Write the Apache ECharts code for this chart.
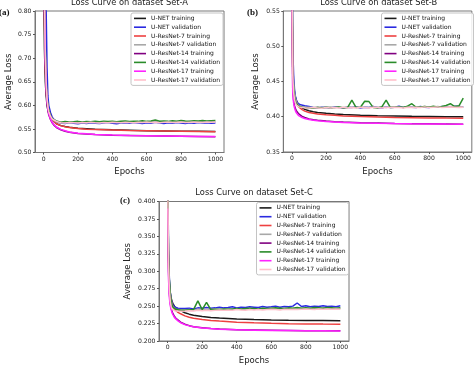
<!DOCTYPE html>
<html>
<head>
<meta charset="utf-8">
<script src="https://cdn.jsdelivr.net/npm/echarts@6.0.0/dist/echarts.min.js"></script>
<style>
html,body{margin:0;padding:0;background:#fff;}
#chart{width:474px;height:366px;}
</style>
</head>
<body>
<div id="chart"></div>
<script>
// ---------- data ----------
const seriesNames = ['U-NET training','U-NET validation','U-ResNet-7 training','U-ResNet-7 validation','U-ResNet-14 training','U-ResNet-14 validation','U-ResNet-17 training','U-ResNet-17 validation'];
const panelTitles = ['Loss Curve on dataset Set-A','Loss Curve on dataset Set-B','Loss Curve on dataset Set-C'];
const panelTags = ['(a)','(b)','(c)'];
const xTicks = [0,200,400,600,800,1000];
const yTicksA = [0.50,0.55,0.60,0.65,0.70,0.75,0.80];
const yTicksB = [0.35,0.40,0.45,0.50,0.55];
const yTicksC = [0.200,0.225,0.250,0.275,0.300,0.325,0.350,0.375,0.400];

const epochsTrain = [1,5,10,15,20,25,30,40,50,60,75,100,125,150,200,250,300,400,500,600,700,800,900,1000];
const epochsVal = [1,5,10,15,20,25,30,40,50,60,75,100,125,150,175,200,225,250,275,300,325,350,375,400,425,450,475,500,525,550,575,600,625,650,675,700,725,750,775,800,825,850,875,900,925,950,975,1000];

// Set-A
const aUnetTrain = [0.84,0.72,0.65,0.62,0.60,0.59,0.583,0.575,0.569,0.565,0.561,0.557,0.555,0.5535,0.5515,0.5505,0.5495,0.548,0.547,0.546,0.5455,0.545,0.5448,0.5445];
const aUnetVal = [1.1,0.98,0.88,0.80,0.68,0.62,0.60,0.585,0.575,0.57,0.565,
 0.5625,0.5615,0.5630,0.5620,0.5610,0.5625,0.5615,0.5630,0.5620,0.5615,
 0.5625,0.5635,0.5620,0.5610,0.5625,0.5630,0.5620,0.5635,0.5625,0.5615,
 0.5630,0.5620,0.5640,0.5625,0.5615,0.5630,0.5620,0.5635,0.5625,0.5615,
 0.5630,0.5620,0.5635,0.5625,0.5630,0.5620,0.5625];
const aR7Train = [0.92,0.78,0.68,0.63,0.61,0.597,0.588,0.578,0.571,0.566,0.561,0.557,0.5545,0.553,0.551,0.5495,0.5485,0.5475,0.5465,0.546,0.5455,0.545,0.5445,0.544];
const aR7Val = [0.95,0.80,0.70,0.64,0.61,0.595,0.585,0.575,0.57,0.567,0.565,
 0.5635,0.5640,0.5630,0.5645,0.5635,0.5640,0.5630,0.5645,0.5640,0.5635,
 0.5645,0.5640,0.5650,0.5635,0.5645,0.5640,0.5650,0.5640,0.5645,0.5655,
 0.5640,0.5650,0.5645,0.5655,0.5645,0.5650,0.5640,0.5655,0.5650,0.5645,
 0.5655,0.5650,0.5645,0.5655,0.5650,0.5655,0.5650];
const aR14Train = [0.95,0.80,0.69,0.635,0.605,0.59,0.58,0.57,0.563,0.558,0.553,0.548,0.545,0.543,0.5405,0.539,0.538,0.5365,0.536,0.5353,0.535,0.5345,0.534,0.5335];
const aR14Val = [0.98,0.85,0.72,0.65,0.615,0.60,0.59,0.578,0.572,0.569,0.567,
 0.5640,0.5655,0.5645,0.5650,0.5660,0.5645,0.5655,0.5650,0.5660,0.5650,
 0.5665,0.5655,0.5660,0.5650,0.5665,0.5670,0.5655,0.5665,0.5660,0.5675,
 0.5660,0.5670,0.5690,0.5665,0.5670,0.5660,0.5675,0.5665,0.5680,0.5670,
 0.5665,0.5675,0.5670,0.5680,0.5670,0.5675,0.5680];
const aR17Train = [0.96,0.82,0.70,0.64,0.61,0.593,0.582,0.571,0.564,0.559,0.554,0.549,0.546,0.5435,0.541,0.5395,0.5383,0.537,0.536,0.5355,0.535,0.5345,0.534,0.5338];
const aR17Val = [0.99,0.83,0.71,0.65,0.615,0.598,0.587,0.577,0.571,0.568,0.566,
 0.5630,0.5625,0.5635,0.5630,0.5625,0.5635,0.5630,0.5640,0.5630,0.5625,
 0.5635,0.5630,0.5640,0.5635,0.5630,0.5640,0.5635,0.5630,0.5640,0.5635,
 0.5645,0.5635,0.5640,0.5630,0.5640,0.5645,0.5635,0.5640,0.5645,0.5635,
 0.5640,0.5645,0.5640,0.5635,0.5645,0.5640,0.5645];

// Set-B
const bUnetTrain = [0.62,0.47,0.445,0.435,0.428,0.424,0.421,0.417,0.414,0.4125,0.4105,0.4085,0.407,0.406,0.4048,0.404,0.4033,0.4022,0.4015,0.401,0.4006,0.4003,0.4001,0.400];
const bUnetVal = [0.65,0.50,0.46,0.44,0.43,0.425,0.42,0.418,0.417,0.4165,0.4155,
 0.4145,0.4130,0.4125,0.4135,0.4130,0.4125,0.4140,0.4130,0.4125,0.4135,
 0.4130,0.4140,0.4125,0.4135,0.4130,0.4145,0.4130,0.4125,0.4140,0.4130,
 0.4135,0.4150,0.4130,0.4140,0.4135,0.4130,0.4145,0.4135,0.4130,0.4140,
 0.4135,0.4145,0.4140,0.4135,0.4150,0.4145,0.4140];
const bR7Train = [0.60,0.46,0.44,0.431,0.425,0.421,0.418,0.414,0.4115,0.410,0.408,0.406,0.405,0.404,0.4027,0.402,0.4012,0.4002,0.3995,0.399,0.3987,0.3984,0.3981,0.398];
const bR7Val = [0.62,0.48,0.45,0.435,0.427,0.422,0.419,0.416,0.4145,0.414,0.4135,
 0.4135,0.4130,0.4140,0.4130,0.4135,0.4140,0.4130,0.4135,0.4130,0.4140,
 0.4135,0.4130,0.4140,0.4135,0.4130,0.4140,0.4135,0.4140,0.4130,0.4140,
 0.4135,0.4140,0.4135,0.4145,0.4135,0.4140,0.4135,0.4145,0.4140,0.4135,
 0.4145,0.4140,0.4135,0.4145,0.4140,0.4145,0.4140];
const bR14Train = [0.58,0.44,0.424,0.416,0.412,0.409,0.407,0.404,0.402,0.4005,0.399,0.397,0.3958,0.395,0.3938,0.393,0.3924,0.3915,0.391,0.3905,0.3902,0.3899,0.3896,0.3893];
const bR14Val = [0.60,0.47,0.44,0.428,0.422,0.419,0.417,0.415,0.414,0.4135,0.413,
 0.4125,0.4120,0.4130,0.4125,0.4135,0.4125,0.4130,0.4140,0.4125,0.4130,
 0.4235,0.4130,0.4135,0.4220,0.4215,0.4130,0.4125,0.4140,0.4235,0.4130,
 0.4135,0.4140,0.4130,0.4150,0.4185,0.4135,0.4140,0.4145,0.4135,0.4150,
 0.4140,0.4145,0.4160,0.4185,0.4145,0.4155,0.4265];
const bR17Train = [0.57,0.435,0.42,0.413,0.409,0.406,0.404,0.4015,0.400,0.3988,0.3975,0.396,0.395,0.3943,0.3933,0.3926,0.392,0.3912,0.3907,0.3903,0.390,0.3898,0.3896,0.3895];
const bR17Val = [0.59,0.46,0.435,0.425,0.42,0.417,0.415,0.414,0.4135,0.413,0.4128,
 0.4125,0.4130,0.4125,0.4120,0.4130,0.4125,0.4130,0.4125,0.4135,0.4125,
 0.4130,0.4125,0.4135,0.4130,0.4125,0.4135,0.4130,0.4125,0.4135,0.4130,
 0.4135,0.4130,0.4125,0.4135,0.4130,0.4135,0.4130,0.4140,0.4130,0.4135,
 0.4140,0.4130,0.4135,0.4140,0.4135,0.4130,0.4135];

// Set-C
const cUnetTrain = [0.42,0.32,0.285,0.27,0.262,0.257,0.254,0.2495,0.247,0.2455,0.2435,0.2405,0.2385,0.237,0.235,0.2338,0.2328,0.2315,0.2307,0.2302,0.2298,0.2295,0.2293,0.2292];
const cUnetVal = [0.45,0.33,0.29,0.27,0.26,0.255,0.252,0.249,0.248,0.247,0.2465,
 0.2465,0.2470,0.2460,0.2475,0.2470,0.2480,0.2470,0.2475,0.2485,0.2475,
 0.2480,0.2490,0.2475,0.2485,0.2480,0.2490,0.2485,0.2480,0.2495,0.2485,
 0.2490,0.2500,0.2485,0.2495,0.2490,0.2500,0.2545,0.2495,0.2505,0.2490,
 0.2500,0.2495,0.2505,0.2495,0.2500,0.2490,0.2505];
const cR7Train = [0.41,0.31,0.28,0.266,0.258,0.253,0.25,0.2455,0.243,0.241,0.239,0.236,0.234,0.2325,0.2308,0.2295,0.2285,0.227,0.226,0.2253,0.2248,0.2245,0.2242,0.224];
const cR7Val = [0.43,0.32,0.285,0.267,0.258,0.252,0.249,0.2465,0.2455,0.245,0.2448,
 0.2445,0.2450,0.2445,0.2455,0.2450,0.2455,0.2450,0.2460,0.2455,0.2450,
 0.2460,0.2455,0.2465,0.2455,0.2460,0.2465,0.2460,0.2455,0.2465,0.2460,
 0.2465,0.2470,0.2460,0.2465,0.2470,0.2465,0.2470,0.2465,0.2475,0.2465,
 0.2470,0.2465,0.2475,0.2470,0.2465,0.2470,0.2465];
const cR14Train = [0.40,0.30,0.268,0.255,0.248,0.243,0.2395,0.235,0.232,0.2298,0.227,0.224,0.222,0.2205,0.219,0.218,0.2172,0.2162,0.2157,0.2153,0.215,0.2148,0.2147,0.2146];
const cR14Val = [0.44,0.325,0.287,0.268,0.258,0.252,0.2485,0.246,0.245,0.2445,0.2442,
 0.2440,0.2445,0.2450,0.2575,0.2450,0.2555,0.2450,0.2455,0.2450,0.2460,
 0.2455,0.2460,0.2465,0.2460,0.2465,0.2470,0.2465,0.2460,0.2470,0.2465,
 0.2470,0.2475,0.2470,0.2465,0.2475,0.2470,0.2480,0.2470,0.2475,0.2470,
 0.2480,0.2475,0.2470,0.2480,0.2475,0.2470,0.2475];
const cR17Train = [0.39,0.29,0.262,0.251,0.245,0.241,0.238,0.2335,0.2308,0.2288,0.2262,0.2235,0.2217,0.2203,0.2188,0.2178,0.217,0.216,0.2155,0.2151,0.2149,0.2147,0.2146,0.2145];
const cR17Val = [0.42,0.31,0.275,0.258,0.25,0.246,0.2445,0.2435,0.243,0.2428,0.2428,
 0.2430,0.2435,0.2430,0.2440,0.2435,0.2440,0.2435,0.2440,0.2445,0.2440,
 0.2445,0.2440,0.2450,0.2445,0.2440,0.2450,0.2445,0.2450,0.2445,0.2450,
 0.2455,0.2450,0.2445,0.2455,0.2450,0.2455,0.2450,0.2455,0.2460,0.2455,
 0.2450,0.2460,0.2455,0.2460,0.2455,0.2460,0.2455];

// ---------- styling / layout ----------
const colors = ['#1a1a1a','#2a2ae0','#ee4040','#a8a8a8','#800080','#2a8c2a','#ff22ff','#ffc0cb'];
const FONT = '"DejaVu Sans", sans-serif';
const panels = [
  {grid:{left:35, top:11, width:189, height:141.5}, y:[0.50,0.80], yTicks:yTicksA, dec:2, nameGap:22,
   title:[129.5,3], tag:[-1,13], legend:[131,13],
   data:[aUnetTrain,aUnetVal,aR7Train,aR7Val,aR14Train,aR14Val,aR17Train,aR17Val]},
  {grid:{left:283.3, top:11, width:190.7, height:141}, y:[0.35,0.55], yTicks:yTicksB, dec:2, nameGap:23,
   title:[378.7,3], tag:[247,12.5], legend:[381.5,13],
   data:[bUnetTrain,bUnetVal,bR7Train,bR7Val,bR14Train,bR14Val,bR17Train,bR17Val]},
  {grid:{left:159, top:201.5, width:190, height:139.5}, y:[0.20,0.40], yTicks:yTicksC, dec:3, nameGap:27,
   title:[254,193], tag:[120,200.5], legend:[256.5,202.5],
   data:[cUnetTrain,cUnetVal,cR7Train,cR7Val,cR14Train,cR14Val,cR17Train,cR17Val]}
];

const grids = [], xAxes = [], yAxes = [], series = [], legends = [], graphics = [];
panels.forEach((p, gi) => {
  grids.push(Object.assign({show:true, borderColor:'#777', borderWidth:1, backgroundColor:'transparent'}, p.grid));
  xAxes.push({
    type:'value', gridIndex:gi, min:-50, max:1050,
    name:'Epochs', nameLocation:'middle', nameGap:15,
    nameTextStyle:{fontFamily:FONT, fontSize:8.5, color:'#222'},
    axisLine:{show:true, onZero:false, lineStyle:{color:'#777', width:1}},
    axisTick:{show:true, length:2, customValues:xTicks, lineStyle:{color:'#555'}},
    axisLabel:{customValues:xTicks, margin:3.5, fontFamily:FONT, fontSize:6.1, color:'#222',
      formatter:(v)=>String(Math.round(v))},
    splitLine:{show:false}
  });
  yAxes.push({
    type:'value', gridIndex:gi, min:p.y[0], max:p.y[1],
    name:'Average Loss', nameLocation:'middle', nameGap:p.nameGap,
    nameTextStyle:{fontFamily:FONT, fontSize:8.5, color:'#222'},
    axisLine:{show:true, onZero:false, lineStyle:{color:'#777', width:1}},
    axisTick:{show:true, length:2, customValues:p.yTicks, lineStyle:{color:'#555'}},
    axisLabel:{customValues:p.yTicks, margin:3.5, fontFamily:FONT, fontSize:6.1, color:'#222',
      formatter:(v)=>Number(v).toFixed(p.dec)},
    splitLine:{show:false}
  });
  p.data.forEach((vals, si) => {
    const ep = (si % 2 === 0) ? epochsTrain : epochsVal;
    series.push({
      type:'line', name:seriesNames[si], xAxisIndex:gi, yAxisIndex:gi,
      data: ep.map((e,i)=>[e, vals[i]]),
      symbol:'none', showSymbol:false, clip:true, animation:false,
      lineStyle:{color:colors[si], width:1.5},
      itemStyle:{color:colors[si]},
      emphasis:{disabled:true}
    });
  });
  legends.push({
    data:seriesNames, left:p.legend[0], top:p.legend[1], orient:'vertical',
    icon:'rect', itemWidth:12, itemHeight:1.6, itemGap:0,
    padding:[1,3,1,3], selectedMode:false,
    backgroundColor:'rgba(255,255,255,0.85)', borderColor:'#c4c4c4', borderWidth:1, borderRadius:2,
    textStyle:{fontFamily:FONT, fontSize:6, lineHeight:8.8, color:'#111'}
  });
  graphics.push({type:'text', x:p.title[0], y:p.title[1],
    style:{text:panelTitles[gi], align:'center', verticalAlign:'middle', font:'8.3px "DejaVu Sans"', fill:'#222'}});
  graphics.push({type:'text', x:p.tag[0], y:p.tag[1],
    style:{text:panelTags[gi], align:'left', verticalAlign:'middle', font:'bold 9px "Liberation Serif"', fill:'#111'}});
});

const chart = echarts.init(document.getElementById('chart'), null, {renderer:'canvas'});
chart.setOption({
  animation:false,
  backgroundColor:'#fff',
  grid:grids, xAxis:xAxes, yAxis:yAxes, series:series, legend:legends, graphic:graphics
});
</script>
</body>
</html>
